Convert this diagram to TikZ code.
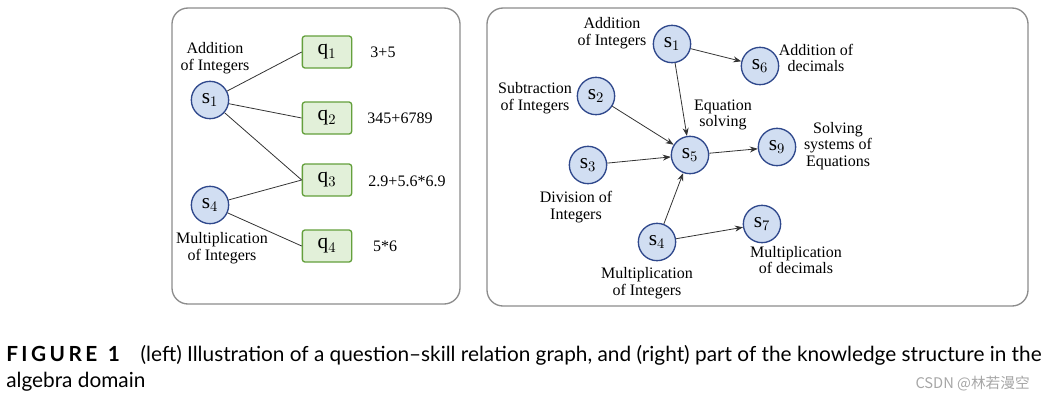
\documentclass[tikz,border=0pt]{standalone}
\usepackage{fontspec}
\setmainfont{Liberation Serif}
\newfontfamily\lato{Lato}
\newfontfamily\cjk{Noto Sans CJK SC}
\usetikzlibrary{arrows.meta}
\definecolor{cfill}{RGB}{209,222,242}
\definecolor{cdraw}{RGB}{47,72,140}
\definecolor{qfill}{RGB}{226,240,217}
\definecolor{qdraw}{RGB}{100,160,60}
\begin{document}
\begin{tikzpicture}[x=0.75pt,y=-0.75pt,
  sk/.style={circle,draw=cdraw,fill=cfill,line width=1pt,minimum size=28pt,inner sep=0pt,font=\fontsize{16}{16}\selectfont},
  qb/.style={rounded corners=2pt,draw=qdraw,fill=qfill,line width=1pt,minimum width=37pt,minimum height=24pt,font=\fontsize{16}{16}\selectfont},
  lb/.style={align=center,font=\fontsize{12}{12.5}\selectfont},
  panel/.style={draw=gray!90,rounded corners=12pt,line width=1pt},
  ln/.style={draw=black!80,line width=0.6pt},
  ar/.style={ln,-{Stealth[length=6pt,width=4.5pt]}}]
\useasboundingbox (0,0) rectangle (1043,401);
\draw[panel] (172,8) rectangle (460,304);
\draw[panel] (487,8) rectangle (1028,306);
% left
\node[sk] (ls1) at (210,100) {s$_1$};
\node[sk] (ls4) at (210,205) {s$_4$};
\node[qb] (q1) at (327,52) {q$_1$};
\node[qb] (q2) at (327,118) {q$_2$};
\node[qb] (q3) at (327,180) {q$_3$};
\node[qb] (q4) at (327,246) {q$_4$};
\node[lb] (t1) at (383,52) {3+5};
\node[lb] (t2) at (400,118) {345+6789};
\node[lb] (t3) at (407,181) {2.9+5.6*6.9};
\node[lb] (t4) at (385,246) {5*6};
\node[lb] (la1) at (215,58) {Addition\\of Integers};
\node[lb] (la4) at (222,248) {Multiplication\\of Integers};
\draw[ln] (ls1) -- (q1.west);
\draw[ln] (ls1) -- (q2.west);
\draw[ln] (ls1) -- (q3.west);
\draw[ln] (ls4) -- (q3.west);
\draw[ln] (ls4) -- (q4.west);
% right
\node[sk] (s1) at (672,44) {s$_1$};
\node[sk] (s6) at (760,66) {s$_6$};
\node[sk] (s2) at (596,96) {s$_2$};
\node[sk] (s5) at (690,155) {s$_5$};
\node[sk] (s9) at (777,147) {s$_9$};
\node[sk] (s3) at (588,165) {s$_3$};
\node[sk] (s4) at (657,242) {s$_4$};
\node[sk] (s7) at (762,224) {s$_7$};
\node[lb] (r1) at (612,33) {Addition\\of Integers};
\node[lb] (r6) at (816,58) {Addition of\\decimals};
\node[lb] (r2) at (535,98) {Subtraction\\of Integers};
\node[lb] (r5) at (723,115) {Equation\\solving};
\node[lb] (r9) at (838,146) {Solving\\systems of\\Equations};
\node[lb] (r3) at (576,207) {Division of\\Integers};
\node[lb] (r4) at (647,283) {Multiplication\\of Integers};
\node[lb] (r7) at (796,260) {Multiplication\\of decimals};
\draw[ar] (s1) -- (s6);
\draw[ar] (s1) -- (s5);
\draw[ar] (s2) -- (s5);
\draw[ar] (s3) -- (s5);
\draw[ar] (s4) -- (s5);
\draw[ar] (s5) -- (s9);
\draw[ar] (s4) -- (s7);
% caption
\node[anchor=west,inner sep=0pt,font=\lato\fontsize{15.6}{18}\selectfont] (cap1) at (6,355) {\textbf{F\,I\,G\,U\,R\,E\,\,\,1}\quad (left) Illustration of a question–skill relation graph, and (right) part of the knowledge structure in the};
\node[anchor=west,inner sep=0pt,font=\lato\fontsize{15.6}{18}\selectfont] (cap2) at (6,382) {algebra domain};
\node[anchor=east,inner sep=0pt,text=gray!70,font=\cjk\fontsize{11}{12}\selectfont] (wm) at (1030,384) {CSDN @林若漫空};
\end{tikzpicture}
\end{document}
